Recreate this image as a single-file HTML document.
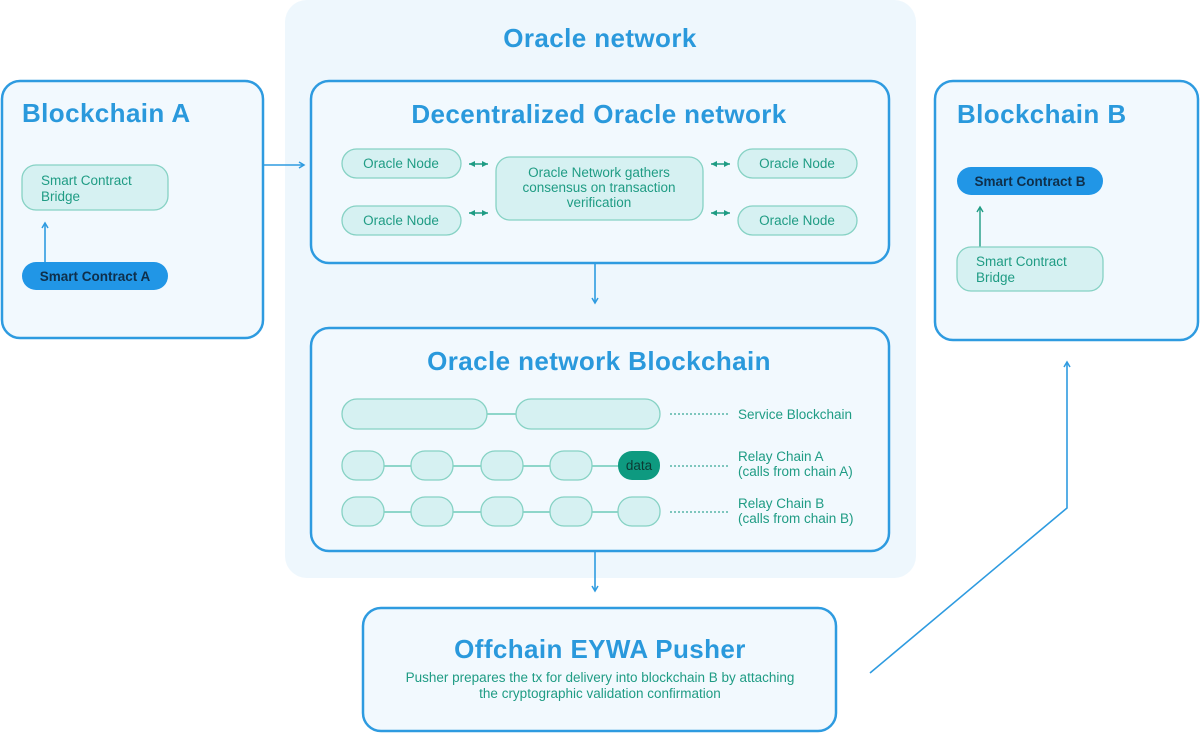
<!DOCTYPE html>
<html><head><meta charset="utf-8"><style>
html,body{margin:0;padding:0;background:#fff;}
svg{display:block;font-family:"Liberation Sans",sans-serif;}
.t{fill:#2a99dc;font-weight:bold;font-size:26px;letter-spacing:0.4px;}
.g{fill:#1f9c84;font-size:13.5px;}
.n{fill:#d6f1f2;stroke:#86d2c4;stroke-width:1.3;}
.bx{fill:#f2f9fe;stroke:#2e9be0;stroke-width:2.5;}
.c{stroke:#6ccab8;stroke-width:1.5;fill:none;}
.bl{stroke:#2e9be0;stroke-width:1.6;fill:none;}
.gr{stroke:#1f9c84;stroke-width:1.4;fill:none;}
</style></head><body>
<svg width="1200" height="733" viewBox="0 0 1200 733">
<defs>
<marker id="ab" markerWidth="8" markerHeight="8" refX="6" refY="4" orient="auto" markerUnits="userSpaceOnUse"><path d="M1,1 L6,4 L1,7" fill="none" stroke="#2e9be0" stroke-width="1.5"/></marker>
<marker id="ag" markerWidth="8" markerHeight="8" refX="6" refY="4" orient="auto-start-reverse" markerUnits="userSpaceOnUse"><path d="M0,1 L6,4 L0,7 Z" fill="#1f9c84"/></marker>
<marker id="ag2" markerWidth="8" markerHeight="8" refX="6" refY="4" orient="auto" markerUnits="userSpaceOnUse"><path d="M1,1 L6,4 L1,7" fill="none" stroke="#1f9c84" stroke-width="1.4"/></marker>
</defs>
<rect x="285" y="0" width="631" height="578" rx="22" fill="#eef7fd"/>
<text x="600" y="47" text-anchor="middle" class="t">Oracle network</text>

<!-- Blockchain A -->
<rect x="2" y="81" width="261" height="257" rx="18" class="bx"/>
<text x="22" y="122" class="t">Blockchain A</text>
<rect x="22" y="165" width="146" height="45" rx="14" class="n"/>
<text x="41" y="185" class="g">Smart Contract</text>
<text x="41" y="201" class="g">Bridge</text>
<line x1="45" y1="262" x2="45" y2="223" class="bl" marker-end="url(#ab)"/>
<rect x="22" y="262" width="146" height="28" rx="14" fill="#2196e6"/>
<text x="95" y="281" text-anchor="middle" font-size="13.5" font-weight="bold" fill="#0f2f4a">Smart Contract A</text>
<line x1="264" y1="165" x2="304" y2="165" class="bl" marker-end="url(#ab)"/>

<!-- Decentralized -->
<rect x="311" y="81" width="578" height="182" rx="18" class="bx"/>
<text x="599" y="123" text-anchor="middle" class="t">Decentralized Oracle network</text>
<rect x="342" y="149" width="119" height="29" rx="14.5" class="n"/>
<text x="401" y="168" text-anchor="middle" class="g">Oracle Node</text>
<rect x="342" y="206" width="119" height="29" rx="14.5" class="n"/>
<text x="401" y="225" text-anchor="middle" class="g">Oracle Node</text>
<rect x="738" y="149" width="119" height="29" rx="14.5" class="n"/>
<text x="797" y="168" text-anchor="middle" class="g">Oracle Node</text>
<rect x="738" y="206" width="119" height="29" rx="14.5" class="n"/>
<text x="797" y="225" text-anchor="middle" class="g">Oracle Node</text>
<rect x="496" y="157" width="207" height="63" rx="14" class="n"/>
<text x="599" y="177" text-anchor="middle" class="g">Oracle Network gathers</text>
<text x="599" y="192" text-anchor="middle" class="g">consensus on transaction</text>
<text x="599" y="207" text-anchor="middle" class="g">verification</text>
<line x1="469" y1="164" x2="488" y2="164" class="gr" marker-start="url(#ag)" marker-end="url(#ag)"/>
<line x1="469" y1="213" x2="488" y2="213" class="gr" marker-start="url(#ag)" marker-end="url(#ag)"/>
<line x1="711" y1="164" x2="730" y2="164" class="gr" marker-start="url(#ag)" marker-end="url(#ag)"/>
<line x1="711" y1="213" x2="730" y2="213" class="gr" marker-start="url(#ag)" marker-end="url(#ag)"/>
<line x1="595" y1="264" x2="595" y2="303" class="bl" marker-end="url(#ab)"/>

<!-- ONB -->
<rect x="311" y="328" width="578" height="223" rx="18" class="bx"/>
<text x="599" y="370" text-anchor="middle" class="t">Oracle network Blockchain</text>
<line x1="487" y1="414" x2="516" y2="414" class="c"/>
<rect x="342" y="399" width="145" height="30" rx="15" class="n"/>
<rect x="516" y="399" width="144" height="30" rx="15" class="n"/>
<line x1="380" y1="466" x2="620" y2="466" class="c"/>
<line x1="380" y1="512" x2="620" y2="512" class="c"/>
<g class="n">
<rect x="342" y="451" width="42" height="29" rx="14"/><rect x="411" y="451" width="42" height="29" rx="14"/><rect x="481" y="451" width="42" height="29" rx="14"/><rect x="550" y="451" width="42" height="29" rx="14"/>
<rect x="342" y="497" width="42" height="29" rx="14"/><rect x="411" y="497" width="42" height="29" rx="14"/><rect x="481" y="497" width="42" height="29" rx="14"/><rect x="550" y="497" width="42" height="29" rx="14"/><rect x="618" y="497" width="42" height="29" rx="14"/>
</g>
<rect x="618" y="451" width="42" height="29" rx="14" fill="#0e9a80"/>
<text x="639" y="470" text-anchor="middle" font-size="13.5" fill="#0c3a33">data</text>
<g stroke="#3aa996" stroke-width="1.2" stroke-dasharray="2,2"><line x1="670" y1="414" x2="730" y2="414"/><line x1="670" y1="466" x2="730" y2="466"/><line x1="670" y1="512" x2="730" y2="512"/></g>
<text x="738" y="419" class="g">Service Blockchain</text>
<text x="738" y="461" class="g">Relay Chain A</text>
<text x="738" y="476" class="g">(calls from chain A)</text>
<text x="738" y="508" class="g">Relay Chain B</text>
<text x="738" y="523" class="g">(calls from chain B)</text>
<line x1="595" y1="552" x2="595" y2="591" class="bl" marker-end="url(#ab)"/>

<!-- Pusher -->
<rect x="363" y="608" width="473" height="123" rx="18" class="bx"/>
<text x="600" y="658" text-anchor="middle" class="t">Offchain EYWA Pusher</text>
<text x="600" y="682" text-anchor="middle" class="g" font-size="13">Pusher prepares the tx for delivery into blockchain B by attaching</text>
<text x="600" y="698" text-anchor="middle" class="g" font-size="13">the cryptographic validation confirmation</text>
<polyline points="870,673 1067,508 1067,362" class="bl" marker-end="url(#ab)"/>

<!-- Blockchain B -->
<rect x="935" y="81" width="263" height="259" rx="18" class="bx"/>
<text x="957" y="123" class="t">Blockchain B</text>
<rect x="957" y="167" width="146" height="28" rx="14" fill="#2196e6"/>
<text x="1030" y="186" text-anchor="middle" font-size="13.5" font-weight="bold" fill="#0f2f4a">Smart Contract B</text>
<line x1="980" y1="247" x2="980" y2="207" class="gr" marker-end="url(#ag2)"/>
<rect x="957" y="247" width="146" height="44" rx="14" class="n"/>
<text x="976" y="266" class="g">Smart Contract</text>
<text x="976" y="282" class="g">Bridge</text>
</svg>
</body></html>
